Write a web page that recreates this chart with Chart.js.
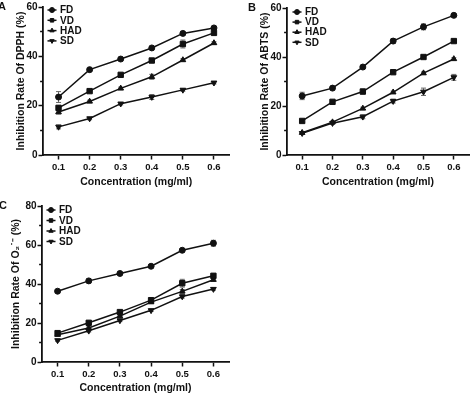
<!DOCTYPE html>
<html>
<head>
<meta charset="utf-8">
<script src="https://cdn.jsdelivr.net/npm/chart.js@4.4.1/dist/chart.umd.min.js"></script>
<style>
  html, body { margin: 0; padding: 0; background: #fff; }
  #wrap { position: relative; width: 474px; height: 396px; overflow: hidden; }
  .panel { position: absolute; }
  .tag { position: absolute; font: bold 11px Arial, "Liberation Sans", sans-serif; color: #111; }
</style>
</head>
<body>
<div id="wrap">
  <div class="panel" style="left:0;top:0"><canvas id="chart-a" width="237" height="196" style="width:237px;height:196px"></canvas></div>
  <div class="panel" style="left:237px;top:0"><canvas id="chart-b" width="237" height="196" style="width:237px;height:196px"></canvas></div>
  <div class="panel" style="left:0;top:196px"><canvas id="chart-c" width="237" height="200" style="width:237px;height:200px"></canvas></div>
  <div class="tag" style="left:-2px;top:0">A</div>
  <div class="tag" style="left:248px;top:1px">B</div>
  <div class="tag" style="left:-1px;top:199px">C</div>
</div>
<script>
'use strict';

const INK = '#111';
const FONT = 'Arial, "Liberation Sans", sans-serif';

const CONC = ['0.1', '0.2', '0.3', '0.4', '0.5', '0.6'];
const SERIES = ['FD', 'VD', 'HAD', 'SD'];

// A: DPPH
const DPPH_FD  = [23.5, 34.6, 38.9, 43.4, 49.3, 51.5];
const DPPH_VD  = [19.1, 25.9, 32.5, 38.3, 45.0, 49.5];
const DPPH_HAD = [17.4, 21.7, 27.0, 31.7, 38.5, 45.4];
const DPPH_SD  = [11.4, 14.8, 20.8, 23.5, 26.4, 29.3];
const DPPH_ERR = [[2.2, 0.5, 0.5, 0.5, 0.5, 0.5], [1.0, 0.5, 0.8, 0.6, 1.6, 0.8], [0.8, 0.5, 0.5, 1.0, 0.5, 0.5], [0.8, 0.5, 0.5, 1.0, 0.5, 0.5]];

// B: ABTS
const ABTS_FD  = [24.1, 27.3, 35.9, 46.5, 52.3, 57.0];
const ABTS_VD  = [13.9, 21.7, 25.9, 33.8, 40.0, 46.5];
const ABTS_HAD = [9.1, 13.4, 19.0, 25.6, 33.4, 39.2];
const ABTS_SD  = [8.9, 13.0, 15.6, 22.0, 25.8, 31.7];
const ABTS_ERR = [[1.5, 0.7, 0.5, 1.0, 1.2, 0.6], [0.6, 0.5, 1.0, 0.5, 0.5, 0.6], [0.5, 0.5, 0.5, 0.5, 0.5, 0.5], [0.5, 0.5, 0.8, 0.8, 1.5, 1.2]];

// C: superoxide
const O2_FD  = [36.3, 41.6, 45.4, 49.1, 57.3, 60.9];
const O2_VD  = [14.8, 20.1, 25.6, 31.7, 40.4, 44.2];
const O2_HAD = [14.0, 17.4, 23.5, 30.7, 36.2, 42.2];
const O2_SD  = [11.1, 16.0, 21.3, 26.5, 33.6, 37.4];
const O2_ERR = [[0.6, 1.0, 0.6, 0.6, 0.6, 1.5], [1.0, 0.6, 0.6, 0.8, 2.0, 1.0], [0.6, 0.6, 0.6, 0.6, 1.0, 0.8], [0.5, 0.6, 0.6, 0.6, 0.8, 0.6]];

const STYLES = [
  { pointStyle: 'circle', pointRotation: 0, pointRadius: 3 },
  { pointStyle: 'rect', pointRotation: 0, pointRadius: 3.8 },
  { pointStyle: 'triangle', pointRotation: 0, pointRadius: 3.3 },
  { pointStyle: 'triangle', pointRotation: 180, pointRadius: 3.3 },
];

const errorBars = {
  id: 'errorBars',
  beforeDatasetsDraw(chart) {
    const { ctx, scales: { x, y } } = chart;
    ctx.save();
    ctx.strokeStyle = '#666';
    ctx.lineWidth = 1;
    chart.data.datasets.forEach(ds => {
      (ds.errors || []).forEach((e, i) => {
        const px = x.getPixelForValue(i);
        const hi = y.getPixelForValue(ds.data[i] + e);
        const lo = y.getPixelForValue(ds.data[i] - e);
        ctx.beginPath();
        ctx.moveTo(px, hi); ctx.lineTo(px, lo);
        ctx.moveTo(px - 2.5, hi); ctx.lineTo(px + 2.5, hi);
        ctx.moveTo(px - 2.5, lo); ctx.lineTo(px + 2.5, lo);
        ctx.stroke();
      });
    });
    ctx.restore();
  }
};

const insideLegend = {
  id: 'insideLegend',
  afterDatasetsDraw(chart, args, opts) {
    const { ctx, chartArea } = chart;
    ctx.save();
    ctx.font = 'bold 10px ' + FONT;
    ctx.textBaseline = 'middle';
    chart.data.datasets.forEach((ds, i) => {
      const x = chartArea.left + opts.left;
      const y = chartArea.top + opts.top + i * opts.gap;
      ctx.strokeStyle = INK;
      ctx.fillStyle = INK;
      ctx.lineWidth = 1.5;
      ctx.beginPath();
      ctx.moveTo(x - 4.5, y); ctx.lineTo(x + 4.5, y);
      ctx.stroke();
      ctx.lineWidth = 1;
      Chart.helpers.drawPoint(ctx, { pointStyle: ds.pointStyle, rotation: ds.pointRotation, radius: 2.5, borderWidth: 1 }, x, y);
      ctx.fillText(ds.label, x + 8, y + 0.5);
    });
    ctx.restore();
  }
};

// labelled ticks get the full tick, the ones between get a shorter one
function axisGrid(minorEvery) {
  return {
    drawOnChartArea: false,
    drawTicks: true,
    tickLength: 4.5,
    tickWidth: 1.5,
    tickColor: INK,
    offset: false,
    tickBorderDash: c => (minorEvery && c.tick && c.tick.value % minorEvery !== 0 ? [0, 1.6, 10, 1] : []),
  };
}

function makePanel(id, cfg) {
  const datasets = cfg.series.map((vals, i) => ({
    label: SERIES[i],
    data: vals,
    errors: cfg.errors[i],
    borderColor: INK,
    backgroundColor: INK,
    borderWidth: 1.5,
    pointBorderWidth: 1,
    pointBorderColor: INK,
    pointBackgroundColor: INK,
    tension: 0,
    ...STYLES[i],
  }));

  return new Chart(document.getElementById(id), {
    type: 'line',
    data: { labels: CONC, datasets },
    options: {
      responsive: false,
      animation: false,
      layout: { padding: cfg.pad },
      plugins: {
        legend: { display: false },
        tooltip: { enabled: false },
        insideLegend: cfg.legend,
      },
      scales: {
        x: {
          type: 'category',
          offset: true,
          grid: axisGrid(0),
          border: { display: true, color: INK, width: 1.8 },
          ticks: { color: INK, font: { family: FONT, size: 9.5, weight: 'bold' }, padding: 2, maxRotation: 0 },
          title: { display: true, text: 'Concentration (mg/ml)', color: INK, font: { family: FONT, size: 10.5, weight: 'bold' }, padding: { top: 0, bottom: cfg.xTitlePad } },
          afterFit(s) { s.height = cfg.xHeight; },
        },
        y: {
          min: 0,
          max: cfg.yMax,
          grid: axisGrid(20),
          border: { display: true, color: INK, width: 1.8 },
          ticks: {
            stepSize: 10,
            color: INK,
            font: { family: FONT, size: 10, weight: 'bold' },
            padding: 1,
            callback: v => (v % 20 === 0 ? v : ''),
          },
          title: { display: true, text: cfg.yTitle, color: INK, font: { family: FONT, size: 10.5, weight: 'bold' }, padding: { top: cfg.yTitlePad, bottom: 0 } },
          afterFit(s) { s.width = cfg.yWidth; },
        },
      },
    },
    plugins: [errorBars, insideLegend],
  });
}

makePanel('chart-a', {
  series: [DPPH_FD, DPPH_VD, DPPH_HAD, DPPH_SD],
  errors: DPPH_ERR,
  yMax: 60,
  yTitle: 'Inhibition Rate Of DPPH (%)',
  pad: { top: 6, right: 7.5, left: 0, bottom: 0 },
  yWidth: 43, xHeight: 41, xTitlePad: 8, yTitlePad: 15,
  legend: { left: 9, top: 3, gap: 10.3 },
});

makePanel('chart-b', {
  series: [ABTS_FD, ABTS_VD, ABTS_HAD, ABTS_SD],
  errors: ABTS_ERR,
  yMax: 60,
  yTitle: 'Inhibition Rate Of ABTS (%)',
  pad: { top: 8, right: 2, left: 0, bottom: 0 },
  yWidth: 50, xHeight: 41, xTitlePad: 8, yTitlePad: 22,
  legend: { left: 10, top: 4, gap: 10.1 },
});

makePanel('chart-c', {
  series: [O2_FD, O2_VD, O2_HAD, O2_SD],
  errors: O2_ERR,
  yMax: 80,
  yTitle: 'Inhibition Rate Of O\u2082\u02D9\u207B (%)',
  pad: { top: 10, right: 8, left: 0, bottom: 0 },
  yWidth: 42, xHeight: 34, xTitlePad: 2, yTitlePad: 10,
  legend: { left: 9, top: 4, gap: 10.5 },
});
</script>
</body>
</html>
